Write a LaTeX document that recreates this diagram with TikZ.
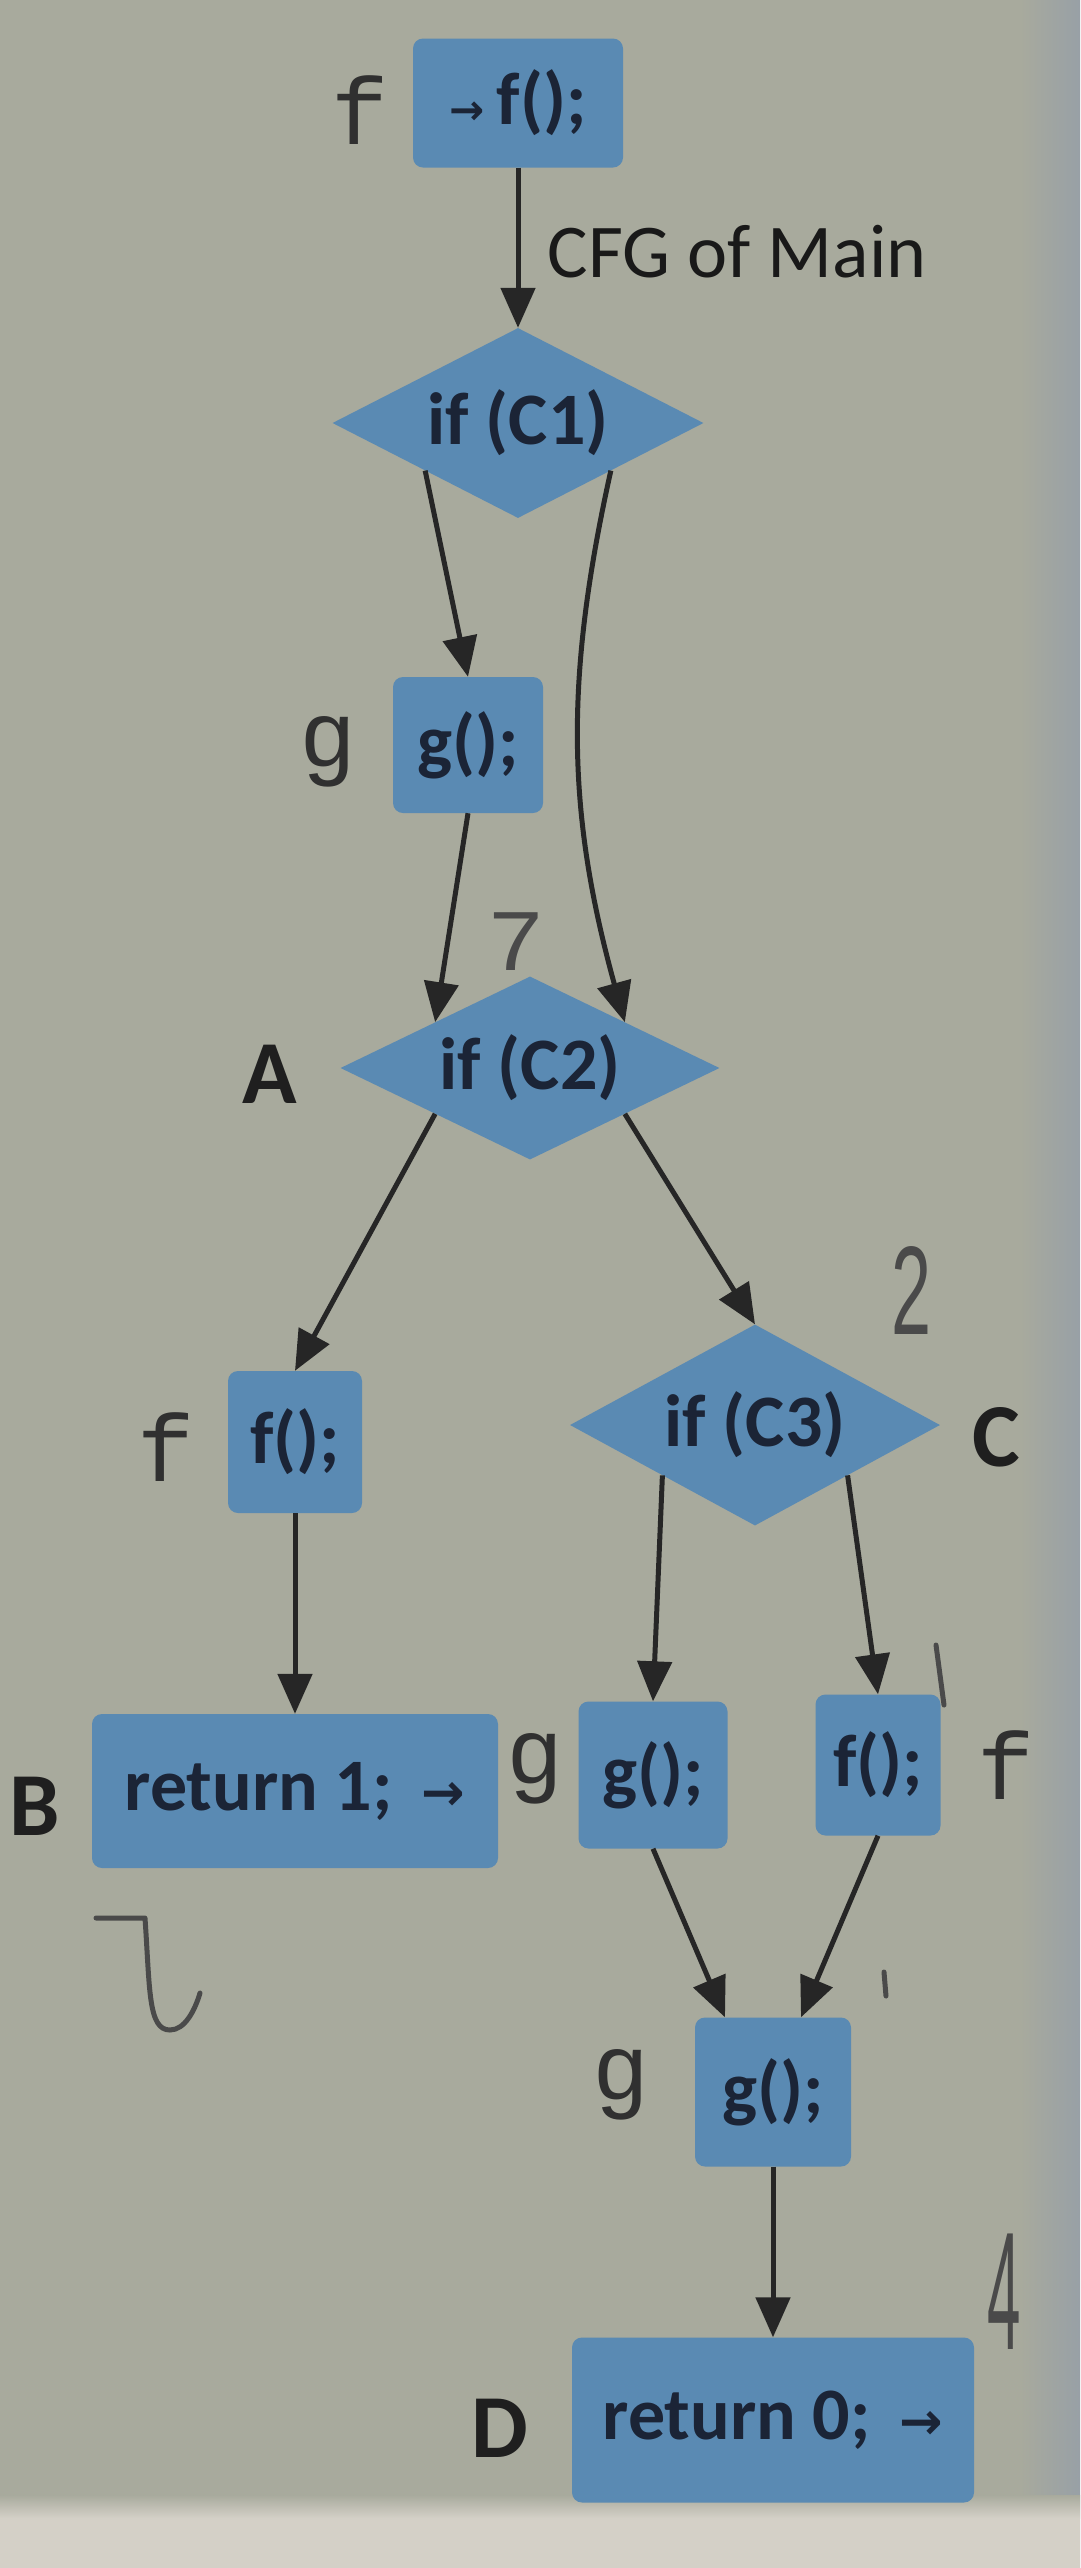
\documentclass[tikz,border=0pt]{standalone}
\usepackage{fontspec}
\usepackage{graphicx}
\setmainfont{Carlito}
\newfontfamily\handfont{Liberation Mono}
\newfontfamily\digfont{Liberation Sans}
\newfontfamily\arrowfont{DejaVu Sans}
\usetikzlibrary{shapes.geometric,arrows.meta,calc}
\definecolor{paper}{HTML}{A8AA9D}
\definecolor{band}{HTML}{98A0A6}
\definecolor{strip}{HTML}{D4D0C7}
\definecolor{nodeblue}{HTML}{5A8AB3}
\definecolor{nodetext}{HTML}{1B2436}
\definecolor{edgecol}{HTML}{262626}
\definecolor{handcol}{HTML}{303030}
\definecolor{pencol}{HTML}{4A4A4A}
\newcommand\cfgnodefont{\bfseries\fontsize{74}{74}\selectfont}
\newcommand\smallarrow{{\arrowfont\fontsize{42}{42}\selectfont →}}
\newcommand\retarrow{{\arrowfont\fontsize{52}{52}\selectfont →}}
\begin{document}
\begin{tikzpicture}[x=1pt,y=-1pt,
  blk/.style={rectangle, rounded corners=10pt, fill=nodeblue, text=nodetext, font=\cfgnodefont, inner sep=0pt, align=center},
  dec/.style={diamond, fill=nodeblue, text=nodetext, font=\cfgnodefont, inner sep=0pt, aspect=2},
  flow/.style={draw=edgecol, line width=5pt, -{Triangle[length=40pt,width=34pt]}},
  letter/.style={font=\bfseries\fontsize{90}{90}\selectfont, text=black!88},
  hand/.style={font=\handfont\fontsize{95}{95}\selectfont, text=handcol},
  digit/.style={font=\digfont\fontsize{120}{120}\selectfont, text=pencol},
  pen/.style={draw=pencol, line width=5pt, line cap=round, line join=round}
]
% background
\fill[paper] (0,0) rectangle (1080,2568);
\shade[left color=paper, right color=band] (1020,0) rectangle (1080,2568);
\shade[top color=paper, bottom color=strip] (0,2495) rectangle (1080,2518);
\fill[strip] (0,2518) rectangle (1080,2568);
\useasboundingbox (0,0) rectangle (1080,2568);

% nodes
\node[blk, minimum width=210pt, minimum height=129pt] (top) at (518,103) {\smallarrow\,f();};
\node[dec, minimum width=371pt, minimum height=190pt] (c1) at (518,423) {if (C1)};
\node[blk, minimum width=150pt, minimum height=136pt] (g1) at (468,745) {g();};
\node[dec, minimum width=379pt, minimum height=183pt] (c2) at (530,1068) {if (C2)};
\node[blk, minimum width=134pt, minimum height=142pt] (fL) at (295,1442) {f();};
\node[dec, minimum width=370pt, minimum height=201pt] (c3) at (755,1425) {if (C3)};
\node[blk, minimum width=406pt, minimum height=154pt] (ret1) at (295,1791) {return 1;\, \retarrow};
\node[blk, minimum width=149pt, minimum height=147pt] (gM) at (653,1775) {g();};
\node[blk, minimum width=125pt, minimum height=141pt] (fR) at (878,1765) {f();};
\node[blk, minimum width=156pt, minimum height=149pt] (gL) at (773,2092) {g();};
\node[blk, minimum width=402pt, minimum height=165pt] (ret0) at (773,2420) {return 0;\, \retarrow};

% connectors
\draw[flow] (top.south) -- (c1.north);
\draw[flow] (c1.south west) -- (g1.north);
\draw[flow] (c1.south east) to[bend right=14] (c2.north east);
\draw[flow] (g1.south) -- (c2.north west);
\draw[flow] (c2.south west) -- (fL.north);
\draw[flow] (c2.south east) -- (c3.north);
\draw[flow] (fL.south) -- (ret1.north);
\draw[flow] (c3.south west) -- (gM.north);
\draw[flow] (c3.south east) -- (fR.north);
\draw[flow] (gM.south) -- ([xshift=-48pt]gL.north);
\draw[flow] (fR.south) -- ([xshift=28pt]gL.north);
\draw[flow] (gL.south) -- (ret0.north);

% printed labels
\node[anchor=west, font=\fontsize{76}{76}\selectfont, text=black!90] (cfg) at (544,252) {CFG of Main};
\node[letter] (lA) at (270,1074) {A};
\node[letter] (lB) at (35,1806) {B};
\node[letter] (lC) at (996,1437) {C};
\node[letter] (lD) at (500,2428) {D};

% handwritten letters
\node[hand] (h1) at (360,110) {f};
\node[hand] (h2) at (328,752) {g};
\node[hand] (h3) at (166,1447) {f};
\node[hand] (h4) at (535,1769) {g};
\node[hand] (h5) at (1006,1765) {f};
\node[hand] (h6) at (621,2085) {g};

% handwritten digits and marks
\node[digit] (d7) at (516,942) {\scalebox{0.8}[0.7]{7}};
\node[digit] (d2) at (912,1290) {\scalebox{0.6}[1.05]{2}};
\node[digit] (d4) at (1004,2292) {\scalebox{0.5}[1.4]{4}};
\draw[pen] (936,1645) -- (944,1705);
\draw[pen] (884,1972) -- (886,1996);
\draw[pen] (96,1918) -- (145,1918) .. controls (150,1990) and (148,2030) .. (170,2030) .. controls (185,2030) and (195,2010) .. (200,1993);
\end{tikzpicture}
\end{document}
